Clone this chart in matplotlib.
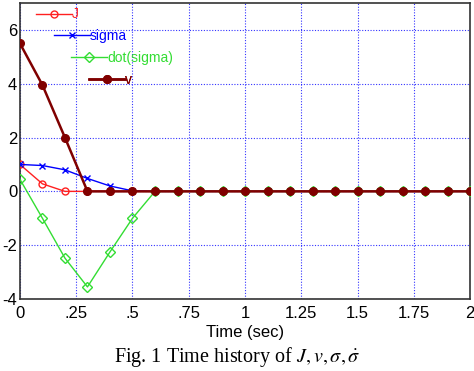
import matplotlib
matplotlib.use("Agg")
import matplotlib.pyplot as plt
from matplotlib.lines import Line2D

plt.rcParams["font.family"] = ["Liberation Sans", "DejaVu Sans"]
plt.rcParams["mathtext.fontset"] = "stix"
plt.rcParams["axes.unicode_minus"] = False

# time axis, one marker every 0.1 s
t = [round(0.1 * i, 1) for i in range(21)]

J = [1.0, 0.28, 0.0] + [0.0] * 18
sigma = [1.0, 0.96, 0.8, 0.48, 0.2, 0.02] + [0.0] * 15
dsigma = [0.45, -1.0, -2.48, -3.55, -2.25, -1.0, 0.0] + [0.0] * 14
v = [5.5, 3.95, 2.0, 0.0] + [0.0] * 17

xticks = [0, 0.25, 0.5, 0.75, 1, 1.25, 1.5, 1.75, 2]
xticklabels = ["0", ".25", ".5", ".75", "1", "1.25", "1.5", "1.75", "2"]
yticks = [-4, -2, 0, 2, 4, 6]

fig = plt.figure(figsize=(4.74, 3.71), dpi=100)
ax = fig.add_axes([0.042, 0.194, 0.950, 0.798])

series = [
    ("J", J, dict(color="#ff2020", marker="o", mfc="none", ms=5, lw=1.0)),
    ("sigma", sigma, dict(color="#0000ff", marker="x", ms=5, lw=1.0)),
    ("dot(sigma)", dsigma, dict(color="#33dd33", marker="D", mfc="none", ms=5, lw=1.0)),
    ("v", v, dict(color="#800000", marker="o", ms=5.5, lw=1.8)),
]

for name, ys, style in series:
    ax.plot(t, ys, **style, zorder=3)

ax.set_xlim(0, 2)
ax.set_ylim(-4, 7)
ax.set_xticks(xticks)
ax.set_xticklabels(xticklabels)
ax.set_yticks(yticks)
ax.tick_params(axis="x", labelsize=12, length=0, pad=5)
ax.tick_params(axis="y", labelsize=12, length=0, pad=2)
ax.grid(True, color="#0000ff", linestyle=(0, (1, 1.5)), linewidth=0.8, alpha=0.8)
for s in ax.spines.values():
    s.set_color("#333333")
    s.set_linewidth(1.2)
ax.set_xlabel("Time (sec)", fontsize=12, labelpad=3)

# staggered legend entries, one per series
for i, (name, ys, style) in enumerate(series):
    h = Line2D([], [], **style)
    leg = ax.legend([h], [name], loc="upper left",
                    bbox_to_anchor=(0.036 + 0.039 * i, 0.985 - 0.074 * i),
                    frameon=False, fontsize=10, handlelength=2.6,
                    handletextpad=0.0, borderpad=0, borderaxespad=0)
    for txt in leg.get_texts():
        txt.set_color(style["color"])
    ax.add_artist(leg)

fig.text(0.5, 0.005, r"Fig. 1 Time history of $J, v, \sigma, \dot{\sigma}$",
         ha="center", va="bottom", fontsize=14.5, family="Liberation Serif")

fig.savefig("out.png", dpi=100)
